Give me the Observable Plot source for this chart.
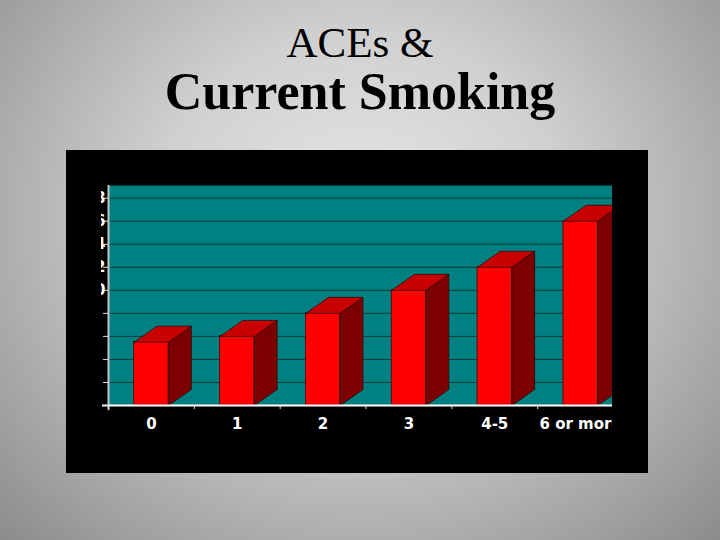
<!DOCTYPE html>
<html><head><meta charset="utf-8">
<script src="https://cdn.jsdelivr.net/npm/d3@7"></script>
<script src="https://cdn.jsdelivr.net/npm/@observablehq/plot@0.6"></script>
<style>
html,body{margin:0;padding:0;width:720px;height:540px;overflow:hidden;}
body{position:relative;background:radial-gradient(farthest-corner at 50% 40%, #e6e6e6 0%, #d0d0d0 40%, #8c8c8c 100%);}
#t1{position:absolute;left:0;width:720px;top:21px;text-align:center;font:43px/1 "Liberation Serif","Times New Roman",serif;color:#000;}
#t2{position:absolute;left:0;width:720px;top:66px;text-align:center;font:bold 52px/1 "Liberation Serif","Times New Roman",serif;color:#000;}
#box{position:absolute;left:66px;top:150px;width:582px;height:323px;background:#000;}
#clip{position:absolute;left:35px;top:0;width:511px;height:323px;overflow:hidden;}
#chart{position:absolute;left:-41px;top:0;width:606px;height:323px;}
#chart svg{display:block;max-width:none !important;width:606px;height:323px;}
</style>
</head><body>
<div id="t1">ACEs &amp;</div>
<div id="t2">Current Smoking</div>
<div id="box"><div id="clip"><div id="chart"></div></div></div>
<script>
const categories = ["0", "1", "2", "3", "4-5", "6 or more"];
const smokingPct = [5.5, 6, 8, 10, 12, 16];
const yTicks = [0, 2, 4, 6, 8, 10, 12, 14, 16, 18];

const halfW = 0.2, depthX = 0.265, depthY = 1.39;
const bars = categories.map((c, i) => ({i, c, v: smokingPct[i]}));
const sideFaces = bars.flatMap(b => [
  [b.i + halfW, 0], [b.i + halfW, b.v], [b.i + halfW + depthX, b.v + depthY],
  [b.i + halfW + depthX, depthY], [b.i + halfW, 0]
].map(([x, y]) => ({id: b.c, x, y})));
const topFaces = bars.flatMap(b => [
  [b.i - halfW, b.v], [b.i - halfW + depthX, b.v + depthY], [b.i + halfW + depthX, b.v + depthY],
  [b.i + halfW, b.v], [b.i - halfW, b.v]
].map(([x, y]) => ({id: b.c, x, y})));
const centers = categories.map((c, i) => i);
const boundaries = d3.range(-0.5, categories.length, 1);

const chart = Plot.plot({
  width: 606, height: 323,
  marginLeft: 48, marginRight: 43, marginTop: 35, marginBottom: 68,
  style: {background: "transparent", color: "white", fontFamily: "DejaVu Sans, Verdana, sans-serif", fontSize: "15px", fontWeight: "bold", maxWidth: "none"},
  x: {domain: [-0.5, categories.length - 0.5], axis: null},
  y: {domain: [0, 19.1], axis: null},
  marks: [
    Plot.frame({fill: "#008080", stroke: null}),
    Plot.gridY(yTicks.filter(t => t > 0), {stroke: "#0b3838", strokeOpacity: 1, strokeWidth: 1}),
    Plot.rectY(bars, {x1: d => d.i - halfW, x2: d => d.i + halfW, y1: 0, y2: "v", fill: "#ff0000", stroke: "#3a0000", strokeWidth: 0.7}),
    Plot.line(sideFaces, {x: "x", y: "y", z: "id", fill: "#7d0000", stroke: "#2a0000", strokeWidth: 0.7}),
    Plot.line(topFaces, {x: "x", y: "y", z: "id", fill: "#c80000", stroke: "#2a0000", strokeWidth: 0.7}),
    Plot.ruleX([-0.5], {y1: -0.45, y2: 19.1, stroke: "#c4c4c4", strokeWidth: 2}),
    Plot.ruleX(boundaries, {y1: 0, y2: -0.35, stroke: "#d8d8d8", strokeWidth: 1}),
    Plot.ruleY([0], {x1: -0.57, x2: categories.length - 0.5, stroke: "white", strokeWidth: 2}),
    Plot.axisX(centers, {tickSize: 0, tickPadding: 13, tickFormat: i => categories[i], label: null, fill: "white", fontWeight: "bold", fontSize: 15}),
    Plot.axisY(yTicks, {tickSize: 5, tickPadding: 19, textAnchor: "start", label: null, stroke: "#e0e0e0", fill: "white", fontWeight: "bold", fontSize: 15})
  ]
});
document.getElementById("chart").appendChild(chart);
</script>
</body></html>
